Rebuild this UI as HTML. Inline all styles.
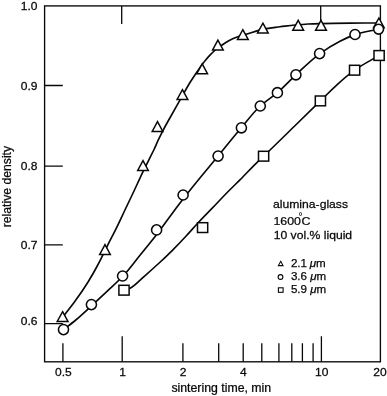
<!DOCTYPE html>
<html><head><meta charset="utf-8"><title>sintering</title>
<style>html,body{margin:0;padding:0;background:#fff}svg{display:block}text{font-family:"Liberation Sans",Arial,Helvetica,sans-serif;font-size:11.6px;fill:#080808;stroke:#080808;stroke-width:0.25px}</style></head><body>
<svg width="387" height="396" viewBox="0 0 387 396">
<rect width="387" height="396" fill="#fff"/>
<rect x="44.6" y="5.9" width="335.8" height="355.9" fill="none" stroke="#080808" stroke-width="1.35"/>
<path d="M44.6 85.5H62.8M44.6 166.2H62.8M44.6 244.8H62.8M44.6 323.7H62.8M62.9 361.8V343.2M122.2 361.8V336.2M182.9 361.8V343.2M218.7 361.8V343.2M243.2 361.8V343.2M261.8 361.8V343.2M278.9 361.8V343.2M291.8 361.8V343.2M302.4 361.8V343.2M313.1 361.8V343.2M321.4 361.8V336.2M121.7 5.9V24.0M320.7 5.9V24.0" fill="none" stroke="#080808" stroke-width="1.30"/>
<path d="M62.6 317.5C66.8 311.9 71.2 306.5 75.3 300.8C79.7 294.8 84.0 288.6 87.9 282.3C91.3 276.8 94.5 271.2 97.5 265.5C99.5 261.8 101.3 258.1 103.2 254.4C104.5 251.8 105.7 249.2 107.0 246.6C110.1 240.3 113.4 234.1 116.5 227.8C119.1 222.6 121.5 217.3 124.0 212.0C127.1 205.5 130.2 199.0 133.3 192.5C136.7 185.3 139.9 178.0 143.4 170.8C145.2 167.1 147.1 163.5 148.9 159.8C150.5 156.5 152.2 153.3 153.8 150.0C155.3 146.8 156.7 143.4 158.2 140.2C159.7 137.0 161.2 133.9 162.8 130.8C165.4 125.8 168.2 120.9 171.0 116.0C174.1 110.5 177.3 104.9 180.4 99.4C183.6 93.8 186.6 88.0 190.0 82.5C192.5 78.5 195.1 74.6 197.8 70.7C200.3 67.1 202.7 63.5 205.5 60.2C207.0 58.4 208.6 56.6 210.2 54.9C211.7 53.3 213.2 51.7 214.8 50.3C217.1 48.3 219.6 46.7 222.1 45.0C224.3 43.5 226.5 42.1 228.8 40.8C231.3 39.5 233.9 38.3 236.5 37.3C239.9 36.0 243.5 35.1 247.0 34.0C250.9 32.8 254.7 31.4 258.6 30.4C261.2 29.7 263.8 29.1 266.4 28.6C270.9 27.7 275.5 27.4 280.0 26.8C285.0 26.2 290.0 25.5 295.0 25.0C299.3 24.6 303.7 24.2 308.0 24.0C312.3 23.8 316.7 23.7 321.0 23.6C330.7 23.3 340.3 23.2 350.0 23.1C360.1 23.0 370.3 23.0 380.4 23.0" fill="none" stroke="#080808" stroke-width="1.65"/>
<path d="M63.5 329.7C67.6 326.5 71.8 323.3 75.8 320.0C81.4 315.3 86.6 310.3 92.0 305.4C97.0 300.8 102.0 296.1 107.0 291.4C112.3 286.4 117.8 281.6 122.8 276.3C129.1 269.6 134.4 262.1 140.2 255.0C145.6 248.4 151.0 241.8 156.3 235.0C163.9 225.2 171.0 214.9 178.5 205.0C181.1 201.7 183.6 198.3 186.2 195.0C196.5 181.8 207.4 169.0 218.1 156.0C225.8 146.6 233.4 137.1 241.3 127.8C247.5 120.5 253.2 112.5 260.3 106.0C265.6 101.1 271.9 97.4 277.4 92.7C283.9 87.1 289.6 80.6 295.9 74.8C303.6 67.6 311.1 60.0 319.6 53.8C326.0 49.1 332.9 44.8 340.0 41.2C344.9 38.7 349.9 36.4 355.0 34.6C362.6 31.9 370.7 31.0 378.6 29.2" fill="none" stroke="#080808" stroke-width="1.65"/>
<path d="M124.0 291.0C125.9 290.2 127.8 289.5 129.6 288.6C135.2 285.7 139.5 280.5 144.3 276.3C149.1 272.1 153.9 267.8 158.6 263.5C163.3 259.2 167.9 254.8 172.4 250.3C176.9 245.8 181.3 241.2 185.7 236.5C190.1 231.8 194.2 227.0 198.6 222.3C203.0 217.6 207.5 213.0 212.0 208.4C217.1 203.1 222.1 197.7 227.2 192.5C231.5 188.1 235.9 183.9 240.2 179.6C246.2 173.6 252.0 167.2 258.1 161.3C261.7 157.8 265.4 154.4 269.0 151.0C277.7 142.8 286.1 134.3 294.7 126.0C303.3 117.6 311.8 109.2 320.4 100.9C326.0 95.5 331.4 89.8 337.2 84.6C342.8 79.6 348.5 74.6 354.6 70.2C362.3 64.6 370.9 60.4 379.1 55.5" fill="none" stroke="#080808" stroke-width="1.65"/>
<rect x="118.9" y="285.3" width="10.2" height="9.8" fill="#fff" stroke="#080808" stroke-width="1.50"/>
<rect x="197.5" y="222.7" width="10.2" height="9.8" fill="#fff" stroke="#080808" stroke-width="1.50"/>
<rect x="258.5" y="151.3" width="10.2" height="9.8" fill="#fff" stroke="#080808" stroke-width="1.50"/>
<rect x="315.3" y="96.0" width="10.2" height="9.8" fill="#fff" stroke="#080808" stroke-width="1.50"/>
<rect x="349.5" y="65.3" width="10.2" height="9.8" fill="#fff" stroke="#080808" stroke-width="1.50"/>
<rect x="374.0" y="50.6" width="10.2" height="9.8" fill="#fff" stroke="#080808" stroke-width="1.50"/>
<path d="M62.6 311.7L68.0 321.5L57.2 321.5Z" fill="#fff" stroke="#080808" stroke-width="1.50" stroke-linejoin="miter"/>
<path d="M105.0 244.7L110.3 254.5L99.7 254.5Z" fill="#fff" stroke="#080808" stroke-width="1.50" stroke-linejoin="miter"/>
<path d="M143.0 160.6L148.3 170.4L137.7 170.4Z" fill="#fff" stroke="#080808" stroke-width="1.50" stroke-linejoin="miter"/>
<path d="M157.5 121.6L162.8 131.4L152.2 131.4Z" fill="#fff" stroke="#080808" stroke-width="1.50" stroke-linejoin="miter"/>
<path d="M182.4 89.7L187.8 99.5L177.1 99.5Z" fill="#fff" stroke="#080808" stroke-width="1.50" stroke-linejoin="miter"/>
<path d="M202.2 63.9L207.5 73.7L196.8 73.7Z" fill="#fff" stroke="#080808" stroke-width="1.50" stroke-linejoin="miter"/>
<path d="M217.9 40.1L223.2 49.9L212.6 49.9Z" fill="#fff" stroke="#080808" stroke-width="1.50" stroke-linejoin="miter"/>
<path d="M242.8 29.7L248.2 39.5L237.5 39.5Z" fill="#fff" stroke="#080808" stroke-width="1.50" stroke-linejoin="miter"/>
<path d="M262.9 23.2L268.2 33.0L257.5 33.0Z" fill="#fff" stroke="#080808" stroke-width="1.50" stroke-linejoin="miter"/>
<path d="M298.2 20.4L303.6 30.2L292.8 30.2Z" fill="#fff" stroke="#080808" stroke-width="1.50" stroke-linejoin="miter"/>
<path d="M321.0 20.4L326.4 30.2L315.6 30.2Z" fill="#fff" stroke="#080808" stroke-width="1.50" stroke-linejoin="miter"/>
<path d="M378.9 18.0L384.2 27.8L373.5 27.8Z" fill="#fff" stroke="#080808" stroke-width="1.50" stroke-linejoin="miter"/>
<circle cx="63.5" cy="329.6" r="5.05" fill="#fff" stroke="#080808" stroke-width="1.55"/>
<circle cx="91.4" cy="304.6" r="5.05" fill="#fff" stroke="#080808" stroke-width="1.55"/>
<circle cx="122.6" cy="276.0" r="5.05" fill="#fff" stroke="#080808" stroke-width="1.55"/>
<circle cx="156.6" cy="229.9" r="5.05" fill="#fff" stroke="#080808" stroke-width="1.55"/>
<circle cx="183.1" cy="195.0" r="5.05" fill="#fff" stroke="#080808" stroke-width="1.55"/>
<circle cx="218.1" cy="156.1" r="5.05" fill="#fff" stroke="#080808" stroke-width="1.55"/>
<circle cx="241.4" cy="127.8" r="5.05" fill="#fff" stroke="#080808" stroke-width="1.55"/>
<circle cx="260.3" cy="106.0" r="5.05" fill="#fff" stroke="#080808" stroke-width="1.55"/>
<circle cx="277.4" cy="92.7" r="5.05" fill="#fff" stroke="#080808" stroke-width="1.55"/>
<circle cx="295.9" cy="74.8" r="5.05" fill="#fff" stroke="#080808" stroke-width="1.55"/>
<circle cx="319.6" cy="53.6" r="5.05" fill="#fff" stroke="#080808" stroke-width="1.55"/>
<circle cx="355.0" cy="34.5" r="5.05" fill="#fff" stroke="#080808" stroke-width="1.55"/>
<circle cx="378.6" cy="29.2" r="4.90" fill="#fff" stroke="#080808" stroke-width="1.55"/>
<text transform="translate(37.5 9.8) scale(1.03 1)" text-anchor="end" style="font-size:11.7px">1.0</text>
<text transform="translate(37.5 89.5) scale(1.03 1)" text-anchor="end" style="font-size:11.7px">0.9</text>
<text transform="translate(37.5 169.9) scale(1.03 1)" text-anchor="end" style="font-size:11.7px">0.8</text>
<text transform="translate(37.5 248.7) scale(1.03 1)" text-anchor="end" style="font-size:11.7px">0.7</text>
<text transform="translate(37.5 325.2) scale(1.03 1)" text-anchor="end" style="font-size:11.7px">0.6</text>
<text transform="translate(63.4 376.0) scale(1.03 1)" text-anchor="middle" style="font-size:11.7px">0.5</text>
<text transform="translate(122.5 376.0) scale(1.03 1)" text-anchor="middle" style="font-size:11.7px">1</text>
<text transform="translate(183.2 376.0) scale(1.03 1)" text-anchor="middle" style="font-size:11.7px">2</text>
<text transform="translate(243.3 376.0) scale(1.03 1)" text-anchor="middle" style="font-size:11.7px">4</text>
<text transform="translate(321.8 376.0) scale(1.03 1)" text-anchor="middle" style="font-size:11.7px">10</text>
<text transform="translate(380.0 376.0) scale(1.03 1)" text-anchor="middle" style="font-size:11.7px">20</text>
<text transform="translate(171.4 392.3) scale(1.025 1)" text-anchor="start" style="font-size:12px">sintering time, min</text>
<text transform="translate(10.9 227.3) rotate(-90) scale(0.985 1)" style="font-size:12.4px">relative density</text>
<text transform="translate(273.0 208.1) scale(1.05 1)" text-anchor="start">alumina-glass</text>
<text transform="translate(273.5 224.9) scale(1.065 1)" text-anchor="start">1600<tspan dx="0.6">C</tspan></text>
<text x="298.6" y="220.1" style="font-size:10px;stroke-width:0.1px">°</text>
<text transform="translate(273.7 238.5) scale(1.05 1)" text-anchor="start">10 vol.% liquid</text>
<path d="M280.7 261.3L283 265.6L278.4 265.6Z" fill="#fff" stroke="#080808" stroke-width="1.1"/>
<circle cx="280.5" cy="277" r="2.4" fill="#fff" stroke="#080808" stroke-width="1.1"/>
<rect x="278.4" y="287.8" width="4.7" height="4.5" fill="#fff" stroke="#080808" stroke-width="1.1"/>
<text x="290.9" y="266.5">2.1 <tspan font-style="italic" dx="-0.5">μ</tspan>m</text>
<text x="290.9" y="279.8">3.6 <tspan font-style="italic">μ</tspan>m</text>
<text x="290.9" y="293.0">5.9 <tspan font-style="italic">μ</tspan>m</text>
</svg></body></html>
